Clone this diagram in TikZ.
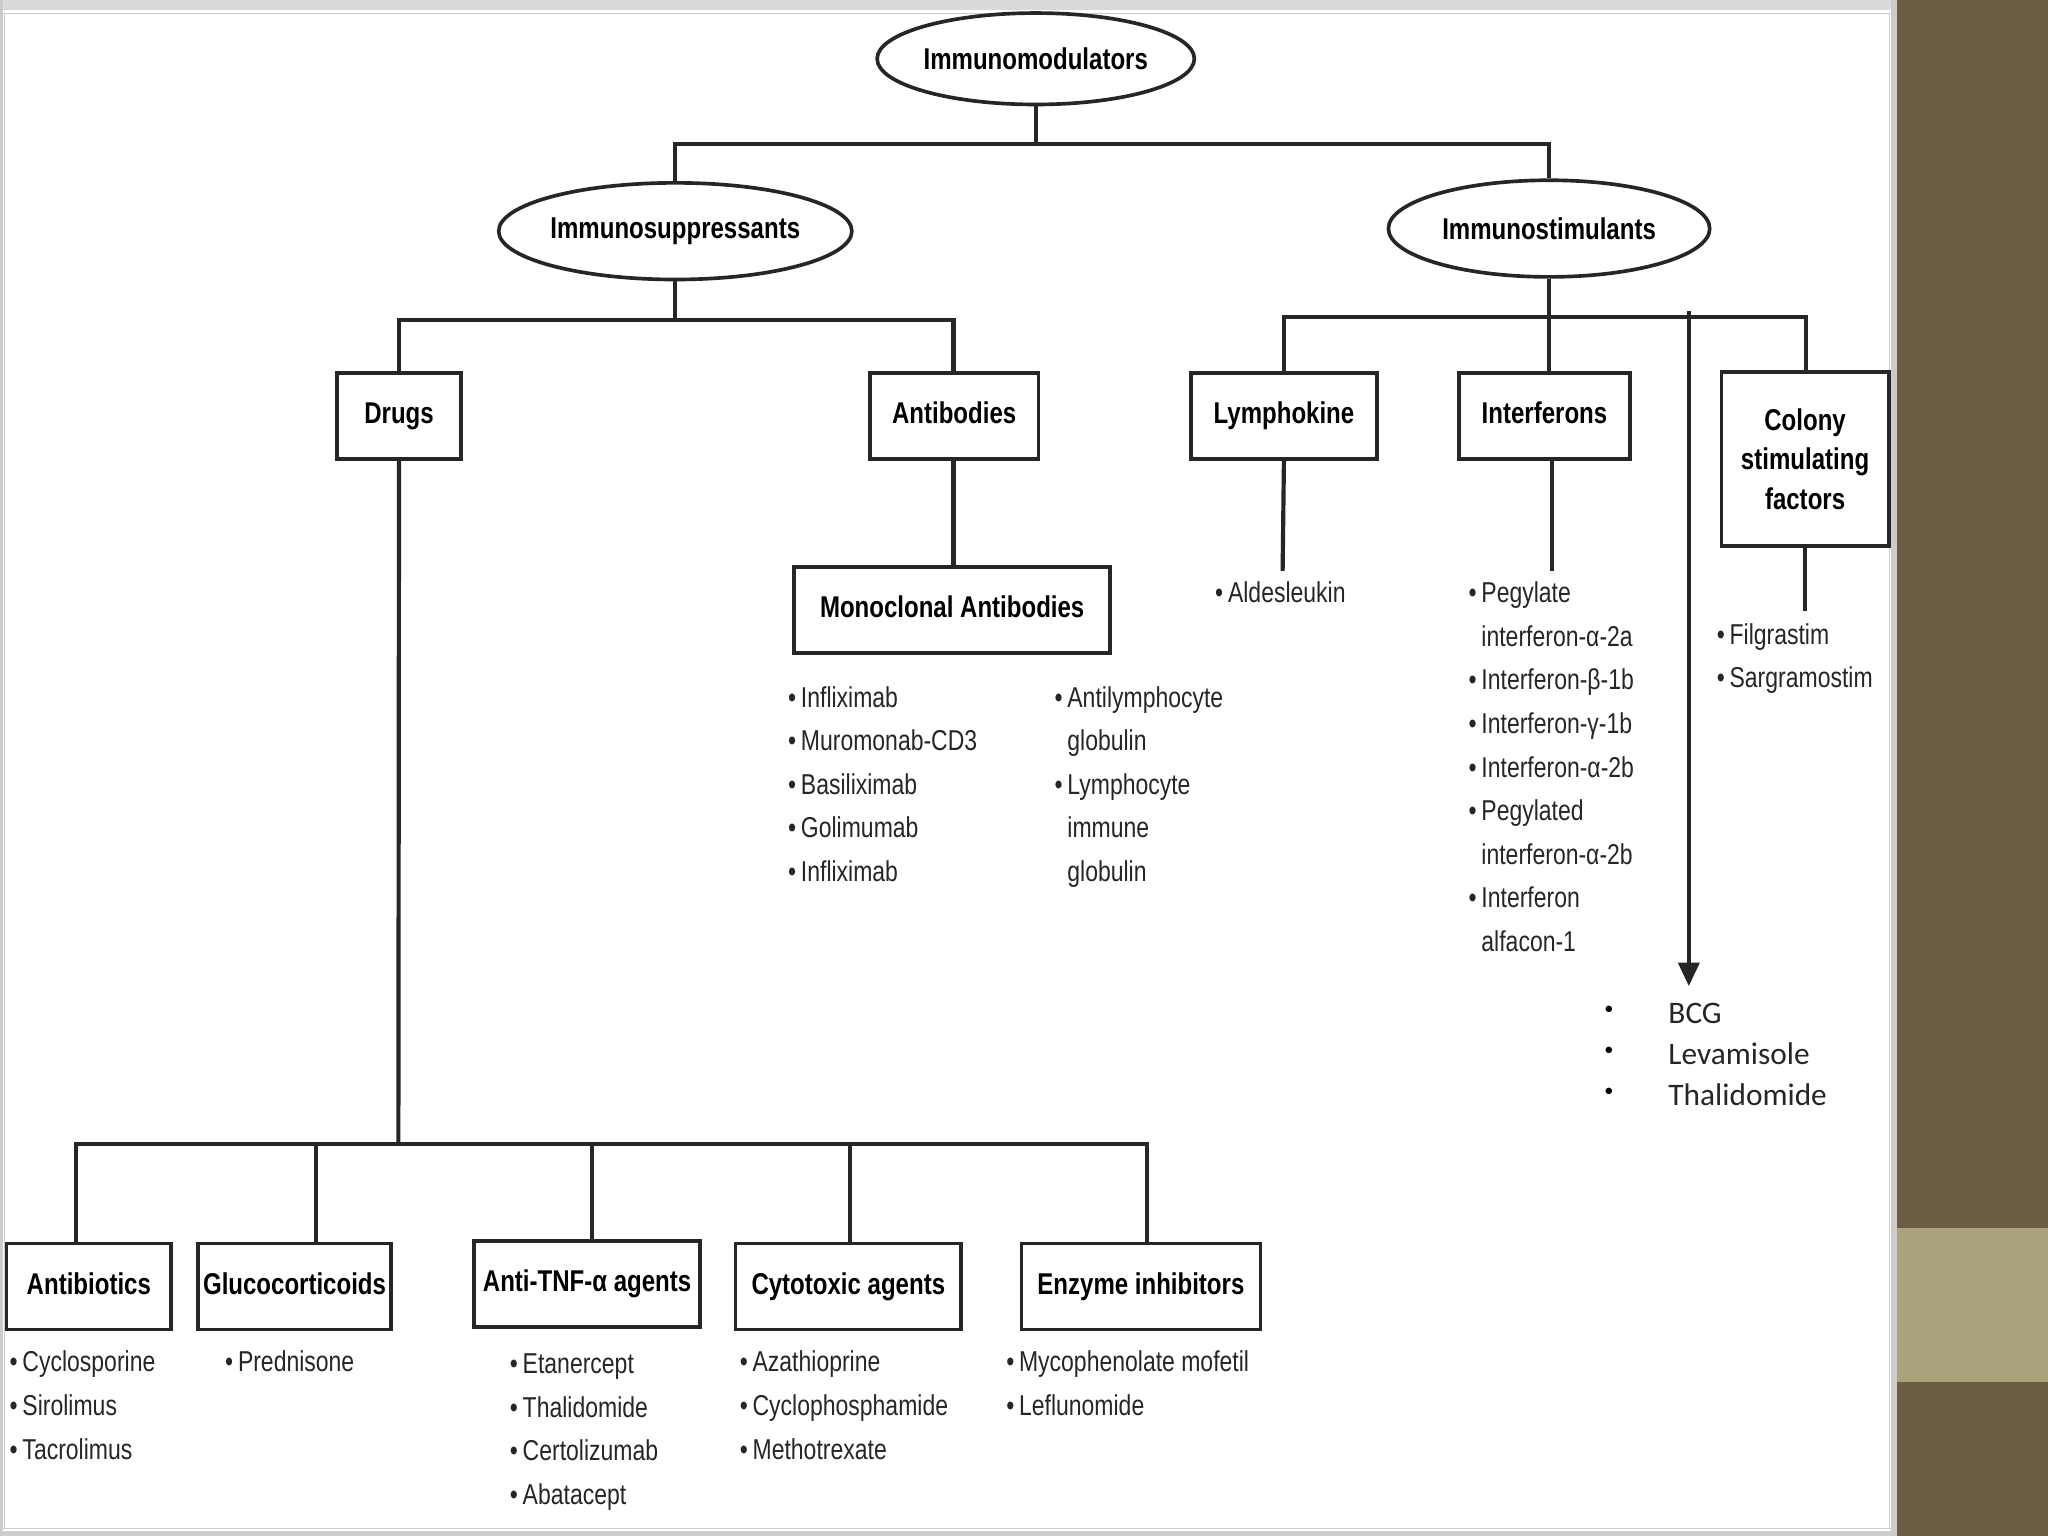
\documentclass[tikz,border=0pt]{standalone}
\usepackage{fontspec}
\setmainfont{Liberation Sans}
\newfontfamily\cond{Liberation Sans}[FakeStretch=0.8]
\newfontfamily\cali{Carlito}
\usetikzlibrary{shapes.geometric,arrows.meta}
\begin{document}
\begin{tikzpicture}[x=0.5pt,y=-0.5pt,
 ln/.style={line width=1.6pt,black!85},
 bx/.style={draw=black!85,line width=1.4pt,rectangle,minimum height=33pt,align=center,font=\cond\bfseries\fontsize{11.5}{15}\selectfont,inner sep=2pt},
 el/.style={draw=black!85,line width=1.4pt,ellipse,inner sep=0pt,font=\cond\bfseries\fontsize{11.5}{15}\selectfont},
 lst/.style={anchor=north west,inner sep=0pt,align=left,font=\cond\fontsize{11}{16.7}\selectfont,text=black!85}]
\useasboundingbox (0,0) rectangle (1568,1176);
\fill[white] (0,0) rectangle (1568,1176);
\fill[black!15] (0,0) rectangle (1450,8);
\fill[black!20] (1448,0) rectangle (1452,1176);
\fill[black!20] (0,1172) rectangle (1450,1176);
\fill[black!20] (0,0) rectangle (2,1176);
\fill[black!20] (0,10) rectangle (1450,11);
\fill[black!20] (0,1170) rectangle (1450,1171);
\fill[black!20] (1446,10) rectangle (1447,1170);
\fill[black!20] (3,10) rectangle (4,1170);
\fill[fill={rgb,255:red,107;green,94;blue,69}] (1452,0) rectangle (1568,1176);
\fill[fill={rgb,255:red,169;green,162;blue,122}] (1452,940) rectangle (1568,1058);

\node[el,minimum width=117pt,minimum height=35pt] (im) at (793,45) {Immunomodulators};
\node[el,minimum width=122pt,minimum height=37pt] (is) at (517,177) {Immunosuppressants};
\node[el,minimum width=123pt,minimum height=37pt] (st) at (1186,175) {Immunostimulants};

\node[bx,minimum width=47.5pt] (dr) at (305.5,318.5) {\strut Drugs};
\node[bx,minimum width=64.5pt] (ab) at (730.5,318.5) {\strut Antibodies};
\node[bx,minimum width=121pt] (mo) at (729,467) {\strut Monoclonal Antibodies};
\node[bx,minimum width=71pt] (ly) at (983,318.5) {\strut Lymphokine};
\node[bx,minimum width=65.5pt] (in) at (1182.5,318.5) {\strut Interferons};
\node[bx,minimum width=64pt,minimum height=66.5pt] (co) at (1382,351.5) {Colony\\stimulating\\factors};

\node[bx,minimum width=63pt] (a1) at (68,985) {\strut Antibiotics};
\node[bx,minimum width=72.5pt] (a2) at (225.5,985) {\strut Glucocorticoids};
\node[bx,minimum width=86.5pt] (a3) at (449.5,983) {\strut Anti-TNF-α agents};
\node[bx,minimum width=86.5pt] (a4) at (649.5,985) {\strut Cytotoxic agents};
\node[bx,minimum width=91.5pt] (a5) at (873.5,985) {\strut Enzyme inhibitors};

\coordinate (j1) at (793,110);
\draw[ln] (im.south) -- (j1);
\draw[ln] (is.north) |- (j1) -| (st.north);
\draw[ln] (is.south) -- (517,245);
\draw[ln] (dr.north) |- (730,245) -- (730,285);
\draw[ln] (730,352) -- (730,434);
\draw[ln] (st.south) -- (1186,243);
\draw[ln] (ly.north) |- (1383,243) -- (1383,285);
\draw[ln] (1186,243) -- (1186,285);
\coordinate (ly2) at (982,437);
\coordinate (in2) at (1188,437);
\coordinate (co2) at (1382,468);
\draw[ln] (ly.south) -- (ly2);
\draw[ln] (1188,352) -- (in2);
\draw[ln] (co.south) -- (co2);
\coordinate (ar1) at (1293,238);
\coordinate (ar2) at (1293,755);
\draw[ln,-{Triangle[length=9pt,width=8pt]}] (ar1) -- (ar2);

\coordinate (jd) at (305,876);
\draw[ln] (dr.south) -- (jd);
\draw[ln] (58,952) -- (58,876) -- (878,876) -- (878,952);
\draw[ln] (242,876) -- (242,952);
\draw[ln] (453,876) -- (453,950);
\draw[ln] (651,876) -- (651,952);

\def\b{\textbullet\,}
\def\p{\phantom{\textbullet\,}}
\node[lst] (l1) at (603,525) {\b Infliximab\\\b Muromonab-CD3\\\b Basiliximab\\\b Golimumab\\\b Infliximab};
\node[lst] (l2) at (807,525) {\b Antilymphocyte\\\p globulin\\\b Lymphocyte\\\p immune\\\p globulin};
\node[lst] (l3) at (930,445) {\b Aldesleukin};
\node[lst] (l4) at (1124,445) {\b Pegylate\\\p interferon-α-2a\\\b Interferon-β-1b\\\b Interferon-γ-1b\\\b Interferon-α-2b\\\b Pegylated\\\p interferon-α-2b\\\b Interferon\\\p alfacon-1};
\node[lst] (l5) at (1314,477) {\b Filgrastim\\\b Sargramostim};
\node[lst] (l6) at (7,1034) {\b Cyclosporine\\\b Sirolimus\\\b Tacrolimus};
\node[lst] (l7) at (172,1034) {\b Prednisone};
\node[lst] (l8) at (390,1036) {\b Etanercept\\\b Thalidomide\\\b Certolizumab\\\b Abatacept};
\node[lst] (l9) at (566,1034) {\b Azathioprine\\\b Cyclophosphamide\\\b Methotrexate};
\node[lst] (l10) at (770,1034) {\b Mycophenolate mofetil\\\b Leflunomide};
\node[lst,font=\cali\fontsize{12}{15.7}\selectfont,text=black] (l11) at (1228,770) {{\scriptsize\textbullet}\\{\scriptsize\textbullet}\\{\scriptsize\textbullet}};
\node[lst,font=\cali\fontsize{12}{15.7}\selectfont,text=black!85] (l12) at (1277,768) {BCG\\Levamisole\\Thalidomide};
\end{tikzpicture}
\end{document}
